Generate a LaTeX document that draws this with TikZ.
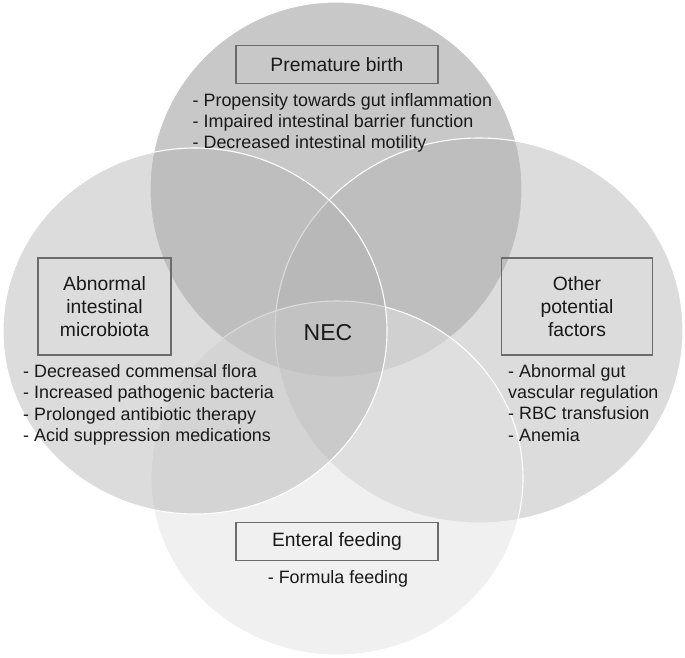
\documentclass[tikz,border=0pt]{standalone}
\usepackage{fontspec}
\setmainfont{Liberation Sans}
\definecolor{txt}{gray}{0.1}
\definecolor{boxc}{gray}{0.42}
\definecolor{ctop}{RGB}{200,200,200}
\definecolor{cright}{RGB}{178,178,178}
\definecolor{cbottom}{RGB}{226,226,226}
\definecolor{cleft}{RGB}{178,178,178}
\begin{document}
\begin{tikzpicture}[x=1pt,y=-1pt,
  circ/.style={draw=white, line width=1.1pt},
  hdr/.style={draw=boxc, line width=1.3pt, text=txt, font=\fontsize{19.3}{23}\selectfont, align=center, inner sep=0pt},
  lst/.style={text=txt, font=\fontsize{17.9}{21}\selectfont, inner sep=0pt, anchor=base west},
  nec/.style={text=txt, font=\fontsize{23}{26}\selectfont, inner sep=0pt}]
\useasboundingbox (0,0) rectangle (685,657);
\fill[white] (0,0) rectangle (685,657);
% circles
\filldraw[circ, fill=ctop] (336,189.5) ellipse [x radius=186pt, y radius=187.5pt];
\filldraw[circ, fill=cright, fill opacity=0.45] (479,330.5) ellipse [x radius=204pt, y radius=192.5pt];
\filldraw[circ, fill=cbottom, fill opacity=0.5] (337,478) ellipse [x radius=186pt, y radius=177pt];
\filldraw[circ, fill=cleft, fill opacity=0.45] (195,331) ellipse [x radius=192pt, y radius=183pt];
% header boxes
\node[hdr, minimum width=202pt, minimum height=38pt] (pb) at (337,64.5) {Premature birth};
\node[hdr, minimum width=133pt, minimum height=97pt] (aim) at (104.5,306.5) {Abnormal\\intestinal\\microbiota};
\node[hdr, minimum width=151pt, minimum height=97pt] (opf) at (577,306.5) {Other\\potential\\factors};
\node[hdr, minimum width=202pt, minimum height=38pt] (ef) at (337,541.5) {Enteral feeding};
% center
\node[nec] (nec) at (328,333) {NEC};
% lists
\foreach \t [count=\i] in {- Propensity towards gut inflammation, - Impaired intestinal barrier function, - Decreased intestinal motility}
  \node[lst] (tl\i) at (192.5,{85+21*\i}) {\t};
\foreach \t [count=\i] in {- Decreased commensal flora, - Increased pathogenic bacteria, - Prolonged antibiotic therapy, - Acid suppression medications}
  \node[lst] (ll\i) at (23,{355.5+21.6*\i}) {\t};
\foreach \t [count=\i] in {- Abnormal gut, vascular regulation, - RBC transfusion, - Anemia}
  \node[lst] (rl\i) at (508,{356+21.3*\i}) {\t};
\node[lst, anchor=base] (bl1) at (338,583) {- Formula feeding};
\end{tikzpicture}
\end{document}
